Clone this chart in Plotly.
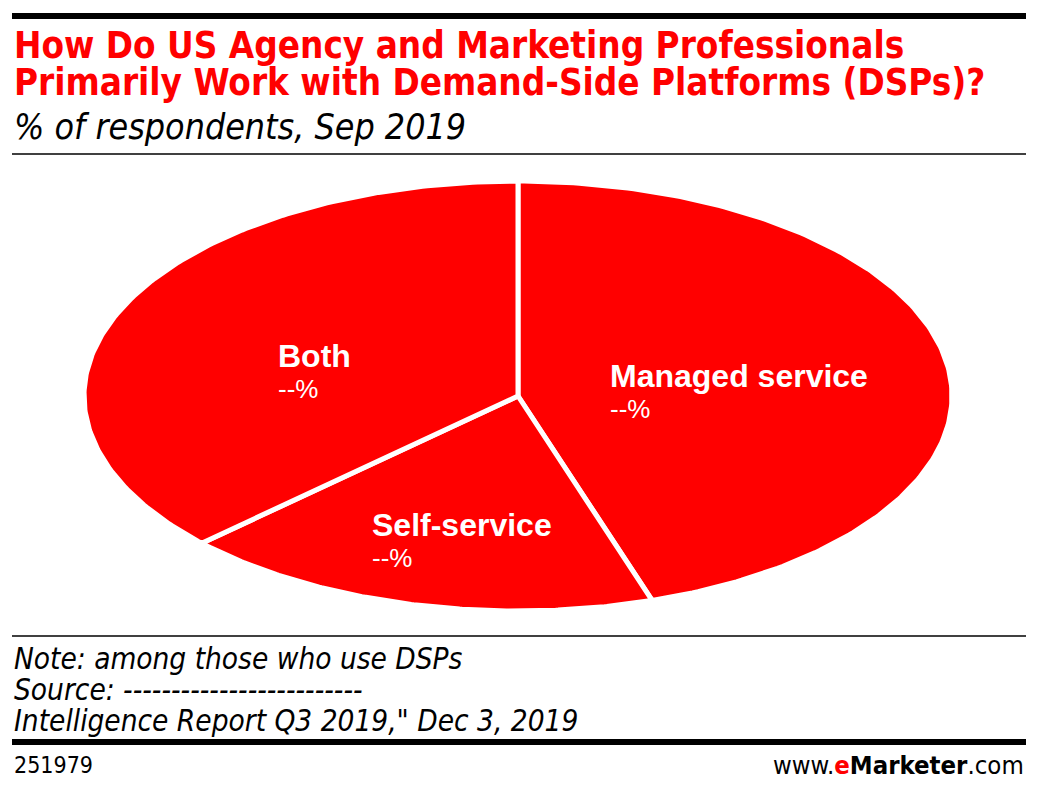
import numpy as np
import plotly.graph_objects as go

# slices, clockwise from 12 o'clock
categories = ["Managed service", "Self-service", "Both"]
shares = [45, 18, 37]
value_labels = ["--%", "--%", "--%"]

title_lines = [
    "How Do US Agency and Marketing Professionals",
    "Primarily Work with Demand-Side Platforms (DSPs)?",
]
subtitle = "% of respondents, Sep 2019"
note_lines = [
    "Note: among those who use DSPs",
    "Source: -------------------------",
    "Intelligence Report Q3 2019,\" Dec 3, 2019",
]
chart_id = "251979"

RED = "#ff0000"
W, H = 1038, 791
PAD = 8                # the page body margin the browser adds
CX, CY = 518, 396      # pie centre, in page pixels
RX, RY = 434, 215      # the pie is squashed into an ellipse

HEAD_FONT = "DejaVu Sans Condensed, Arial Narrow, sans-serif"
LABEL_FONT = "Liberation Sans, Arial, sans-serif"


def slice_path(start, end, n=200):
    """
    Build the outline of one elliptical pie slice.

    Args:
        start (float): start angle in degrees, clockwise from 12 o'clock
        end (float): end angle in degrees

    Returns:
        tuple: x and y lists in page pixels (y grows downward)
    """
    t = np.radians(np.linspace(start, end, n))
    xs = np.concatenate([[CX], CX + RX * np.sin(t), [CX]])
    ys = np.concatenate([[CY], CY - RY * np.cos(t), [CY]])
    return xs, ys


fig = go.Figure()

edges = np.concatenate([[0], np.cumsum(shares)]) / sum(shares) * 360
for name, a0, a1 in zip(categories, edges[:-1], edges[1:]):
    xs, ys = slice_path(a0, a1)
    fig.add_trace(go.Scatter(
        x=xs, y=ys, mode="lines", fill="toself", name=name,
        fillcolor=RED, line=dict(color="white", width=5),
        hoverinfo="name",
    ))

# label spots inside the slices (left edge / vertical centre of the name line)
label_pos = {
    "Managed service": (608, 376),
    "Self-service": (370, 525),
    "Both": (276, 356),
}
for name, val in zip(categories, value_labels):
    lx, ly = label_pos[name]
    fig.add_annotation(x=lx, y=ly, text=f"<b>{name}</b>", xanchor="left",
                       yanchor="middle", showarrow=False,
                       font=dict(family=LABEL_FONT, size=32, color="white"))
    fig.add_annotation(x=lx, y=ly + 33, text=val, xanchor="left",
                       yanchor="middle", showarrow=False,
                       font=dict(family=LABEL_FONT, size=26, color="white"))

# header
for i, line in enumerate(title_lines):
    fig.add_annotation(x=12, y=45 + i * 37, text=f"<b>{line}</b>", xanchor="left",
                       yanchor="middle", showarrow=False,
                       font=dict(family=HEAD_FONT, size=36.5, color=RED))
fig.add_annotation(x=12, y=126, text=f"<i>{subtitle}</i>", xanchor="left",
                   yanchor="middle", showarrow=False,
                   font=dict(family=HEAD_FONT, size=35.5, color="black"))

# footer
for i, line in enumerate(note_lines):
    fig.add_annotation(x=12, y=659 + i * 31, text=f"<i>{line}</i>", xanchor="left",
                       yanchor="middle", showarrow=False,
                       font=dict(family=HEAD_FONT, size=29.5, color="black"))
fig.add_annotation(x=12, y=765, text=chart_id, xanchor="left", yanchor="middle",
                   showarrow=False, font=dict(family=HEAD_FONT, size=23, color="black"))
fig.add_annotation(
    x=1026, y=765, xanchor="right", yanchor="middle", showarrow=False,
    text="www.<b><span style='color:#ff0000'>e</span>Marketer</b>.com",
    font=dict(family=HEAD_FONT, size=25.5, color="black"),
)

rules = [(16, 6), (154, 1.5), (636, 1.5), (742, 6)]
for y, w in rules:
    fig.add_shape(type="line", x0=12, x1=1026, y0=y, y1=y, xref="x", yref="y",
                  line=dict(color="black", width=w))

fig.update_layout(
    width=W - PAD, height=H - PAD,
    margin=dict(l=0, r=0, t=0, b=0),
    paper_bgcolor="white", plot_bgcolor="white",
    showlegend=False,
    xaxis=dict(range=[PAD, W], visible=False, fixedrange=True),
    yaxis=dict(range=[H, PAD], visible=False, fixedrange=True),
    dragmode=False,
)

fig.write_html("out.html")
